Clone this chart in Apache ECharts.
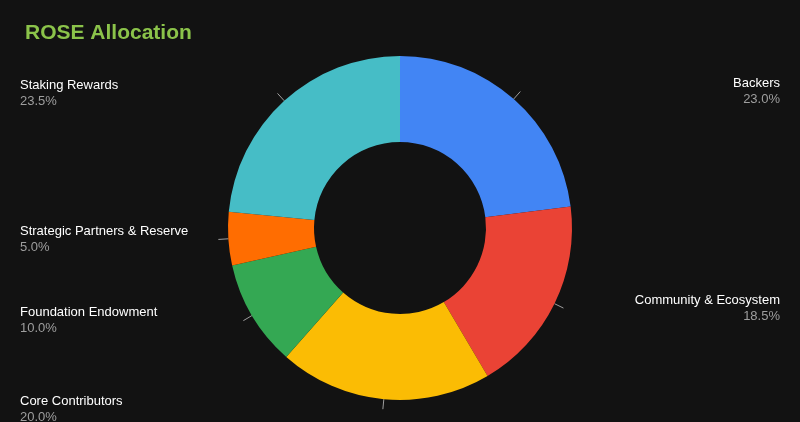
<!DOCTYPE html><html><head><meta charset="utf-8"><script src="https://cdn.jsdelivr.net/npm/echarts@6/dist/echarts.min.js"></script><style>html,body{margin:0;background:#121212}#c{width:800px;height:422px}</style></head><body><div id="c"></div><script>
const categories=["Backers","Community & Ecosystem","Core Contributors","Foundation Endowment","Strategic Partners & Reserve","Staking Rewards"];
const values=[23.0,18.5,20.0,10.0,5.0,23.5];
const colors=["#4285f4","#ea4335","#fbbc04","#34a853","#ff6d01","#46bdc6"];
const chart=echarts.init(document.getElementById('c'));
chart.setOption({backgroundColor:'#121212',
title:{text:'ROSE Allocation',left:20,top:18,textStyle:{color:'#8bc34a',fontSize:21,fontWeight:'bold',fontFamily:'Liberation Sans, Arial'}},
series:[{type:'pie',center:[400,228],radius:[86,172],startAngle:90,clockwise:true,avoidLabelOverlap:false,
data:categories.map((n,i)=>({name:n,value:values[i],itemStyle:{color:colors[i]}})),
label:{alignTo:'edge',edgeDistance:20,lineHeight:16,formatter:p=>'{n|'+p.name+'}\n{p|'+p.value.toFixed(1)+'%}',
rich:{n:{color:'#ffffff',fontSize:13,fontFamily:'Liberation Sans, Arial'},p:{color:'#9e9e9e',fontSize:13,fontFamily:'Liberation Sans, Arial'}}},
labelLine:{length:10,length2:0,lineStyle:{color:'#9e9e9e',width:1}}}]});
</script></body></html>
